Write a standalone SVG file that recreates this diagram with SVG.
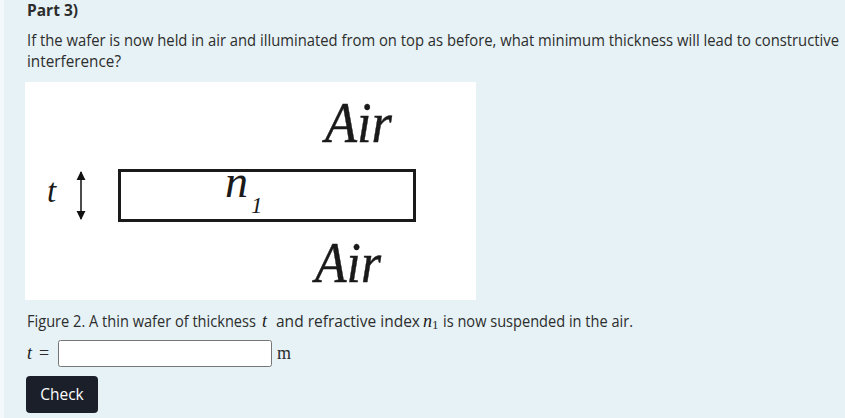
<svg xmlns="http://www.w3.org/2000/svg" width="845" height="418" viewBox="0 0 845 418">
<style>
.ui{font-family:"Open Sans","Noto Sans","Liberation Sans",sans-serif;font-size:15.5px;fill:#2d2d2d}
.bold{font-weight:bold}
.math{font-family:"Liberation Serif","DejaVu Serif",serif;font-style:italic;fill:#1a1a1a}
.mathr{font-family:"Liberation Serif","DejaVu Serif",serif;fill:#2d2d2d}
</style>
<defs>
<marker id="ah" viewBox="0 0 10 10" refX="9" refY="5" markerWidth="9" markerHeight="10" markerUnits="userSpaceOnUse" orient="auto-start-reverse">
<path d="M0,0 L10,5 L0,10 Z" fill="#111"/>
</marker>
</defs>
<rect x="0" y="0" width="845" height="418" fill="#e6f2f5"/>
<rect x="0" y="0" width="4" height="418" fill="#f3f8fa"/>
<g id="header">
<text class="ui bold" x="27" y="16" font-size="15">Part 3)</text>
<text class="ui" x="27" y="46" textLength="812" lengthAdjust="spacingAndGlyphs">If the wafer is now held in air and illuminated from on top as before, what minimum thickness will lead to constructive</text>
<text class="ui" x="27" y="67" textLength="94" lengthAdjust="spacingAndGlyphs">interference?</text>
</g>
<g id="figure">
<rect x="25" y="82" width="451" height="218" fill="#ffffff"/>
<text class="math" x="325" y="142" font-size="56" textLength="67" lengthAdjust="spacingAndGlyphs" stroke="#1a1a1a" stroke-width="0.4">Air</text>
<text class="math" x="315" y="282" font-size="56" textLength="66" lengthAdjust="spacingAndGlyphs" stroke="#1a1a1a" stroke-width="0.4">Air</text>
<g id="wafer">
<rect x="119.5" y="170.5" width="295" height="50" fill="none" stroke="#1a1a1a" stroke-width="3"/>
<text class="math" x="225" y="197" font-size="46">n</text>
<text class="math" x="251" y="213" font-size="23">1</text>
</g>
<g id="thickness">
<text class="math" x="47" y="202" font-size="33">t</text>
</g>
<g id="connectors">
<line x1="81" y1="172" x2="81" y2="219" stroke="#111" stroke-width="1.5" marker-start="url(#ah)" marker-end="url(#ah)"/>
</g>
</g>
<g id="caption">
<text class="ui" x="27" y="327" textLength="229" lengthAdjust="spacingAndGlyphs">Figure 2. A thin wafer of thickness</text>
<text class="math" x="262" y="327" font-size="18">t</text>
<text class="ui" x="276" y="327" textLength="144" lengthAdjust="spacingAndGlyphs">and refractive index</text>
<text class="math" x="423" y="327" font-size="18">n</text>
<text class="mathr" x="432" y="329" font-size="13">1</text>
<text class="ui" x="443" y="327" textLength="190" lengthAdjust="spacingAndGlyphs">is now suspended in the air.</text>
</g>
<g id="answer">
<text class="math" x="27" y="359" font-size="18">t</text>
<text class="mathr" x="39" y="359" font-size="18">=</text>
<rect x="58.5" y="340.5" width="213" height="26" rx="2" fill="#ffffff" stroke="#767676" stroke-width="1"/>
<text class="mathr" x="277" y="359" font-size="18">m</text>
</g>
<g id="check">
<rect x="26" y="376" width="72" height="37" rx="4" fill="#1b1f2a"/>
<text class="ui" x="62" y="400" text-anchor="middle" style="fill:#ffffff">Check</text>
</g>
</svg>
